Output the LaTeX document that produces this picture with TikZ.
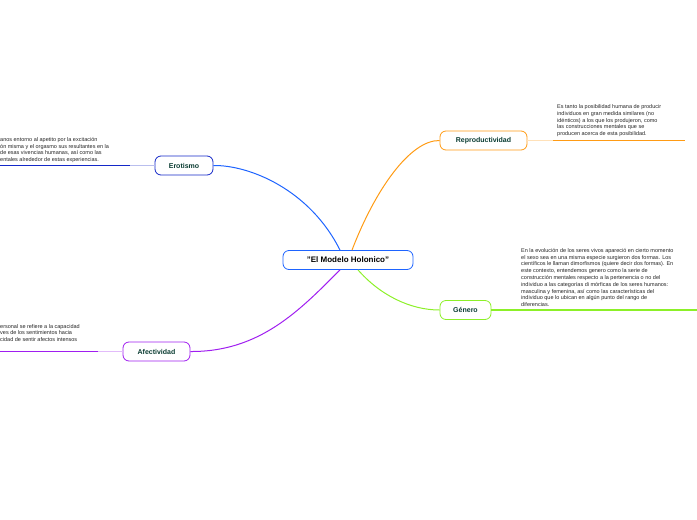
\documentclass[tikz,border=0pt]{standalone}
\usepackage{fontspec}
\setmainfont{Liberation Sans}
\definecolor{cblue}{RGB}{30,100,255}
\definecolor{dblue}{RGB}{20,40,200}
\definecolor{corange}{RGB}{255,155,20}
\definecolor{cgreen}{RGB}{140,240,40}
\definecolor{cpurple}{RGB}{160,30,240}
\definecolor{ctext}{RGB}{10,60,50}
\begin{document}
\begin{tikzpicture}[x=1pt,y=-1pt,
 topic/.style={draw=#1,rounded corners=6pt,line width=0.8pt,fill=white,font=\bfseries\fontsize{7}{8}\selectfont,text=ctext,minimum height=19pt,inner sep=0pt},
 note/.style={font=\fontsize{5.5}{6.8}\selectfont,align=left,anchor=south west,inner sep=0pt,text=black!85}]
\useasboundingbox (0,0) rectangle (697,520);
\clip (0,0) rectangle (697,520);
\node[topic=cblue,minimum width=130pt,font=\bfseries\fontsize{8}{9}\selectfont,text=black] (c) at (348,260) {"El Modelo Holonico"};
\node[topic=dblue,minimum width=58pt] (e) at (184,165.5) {Erotismo};
\node[topic=corange,minimum width=87pt] (r) at (483.5,140.5) {Reproductividad};
\node[topic=cgreen,minimum width=51pt] (g) at (465.5,310) {Género};
\node[topic=cpurple,minimum width=67pt] (a) at (156.5,351.5) {Afectividad};
\draw[cblue,line width=1pt] ([xshift=-8pt]c.north) .. controls (310,190) and (250,165) .. (e.east);
\draw[corange,line width=1pt] ([xshift=4pt]c.north) .. controls (375,190) and (410,140) .. (r.west);
\draw[cgreen,line width=1pt] ([xshift=10pt]c.south) .. controls (380,295) and (410,310) .. (g.west);
\draw[cpurple,line width=1pt] ([xshift=-8pt]c.south) .. controls (300,310) and (260,352) .. (a.east);
\coordinate (e0) at (0,165.5); \coordinate (e1) at (130,165.5);
\draw[dblue!30,line width=1pt] (e1) -- (e.west);
\draw[dblue,line width=1.2pt] (e0) -- (e1);
\coordinate (a0) at (0,351.5); \coordinate (a1) at (98,351.5);
\draw[cpurple!30,line width=1pt] (a1) -- (a.west);
\draw[cpurple,line width=1.2pt] (a0) -- (a1);
\coordinate (r1) at (553,140.5); \coordinate (r2) at (685,140.5);
\draw[corange!30,line width=1pt] (r.east) -- (r1);
\draw[corange,line width=1.2pt] (r1) -- (r2);
\coordinate (g1) at (697,310);
\draw[cgreen,line width=1.2pt] (g.east) -- (g1);
\node[note] (et) at (0,163) {anos entorno al apetito por la excitación\\ ón misma y el orgasmo sus resultantes en la\\ de esas vivencias humanas, así como las\\ entales alrededor de estas experiencias.};
\node[note] (at) at (0,342) {ersonal se refiere a la capacidad\\ ves de los sentimientos hacia\\ cidad de sentir afectos intensos};
\node[note] (rt) at (557,137) {Es tanto la posibilidad humana de producir\\ individuos en gran medida similares (no\\ idénticos) a los que los produjeron, como\\ las construcciones mentales que se\\ producen acerca de esta posibilidad.};
\node[note] (gt) at (521,307) {En la evolución de los seres vivos apareció en cierto momento\\ el sexo sea en una misma especie surgieron dos formas. Los\\ científicos le llaman dimorfismos (quiere decir dos formas). En\\ este contexto, entendemos genero como la serie de\\ construcción mentales respecto a la pertenencia o no del\\ individuo a las categorías di mórficas de los seres humanos:\\ masculina y femenina, así como las características del\\ individuo que lo ubican en algún punto del rango de\\ diferencias.};
\end{tikzpicture}
\end{document}
